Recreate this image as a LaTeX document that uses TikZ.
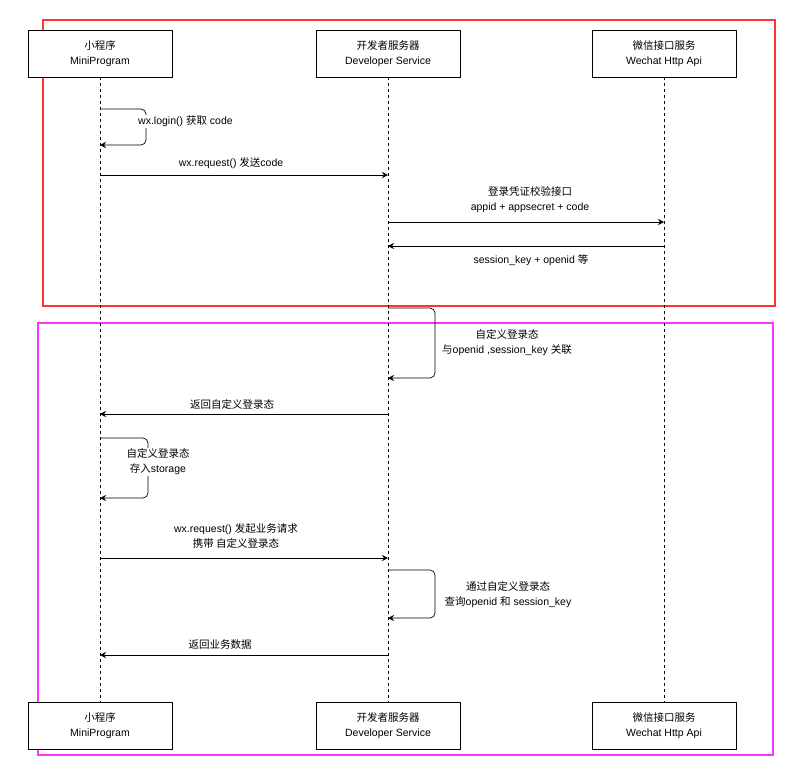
\documentclass[tikz,border=0pt]{standalone}
\usepackage{fontspec}
\setmainfont{Liberation Sans}
\newfontfamily\cjk{Noto Sans CJK SC}
\newcommand{\zh}[1]{{\cjk #1}}
\usetikzlibrary{arrows.meta}
\begin{document}
\begin{tikzpicture}[x=1pt,y=-1pt,font=\fontsize{10.5}{15}\selectfont,
  actor/.style={draw,minimum width=144pt,minimum height=47pt,align=center,fill=white},
  life/.style={dashed,line width=0.7pt},
  msg/.style={-{Stealth[length=6pt,width=6pt]},line width=0.7pt},
  self/.style={msg,rounded corners=5pt},
  lbl/.style={align=center,inner sep=1pt}]
\useasboundingbox (0,0) rectangle (808,766);
% frames
\draw[line width=2.5pt,color={rgb,255:red,255;green,51;blue,51}] (43,20) rectangle (775,306);
\draw[line width=2.5pt,color={rgb,255:red,255;green,51;blue,255}] (38,323) rectangle (773,755);
% actors
\node[actor] (mt) at (100,53.5) {\zh{小程序}\\MiniProgram};
\node[actor] (dt) at (388,53.5) {\zh{开发者服务器}\\Developer Service};
\node[actor] (wt) at (664,53.5) {\zh{微信接口服务}\\Wechat Http Api};
\node[actor] (mb) at (100,726) {\zh{小程序}\\MiniProgram};
\node[actor] (db) at (388,726) {\zh{开发者服务器}\\Developer Service};
\node[actor] (wb) at (664,726) {\zh{微信接口服务}\\Wechat Http Api};
\draw[life] (mt) -- (mb);
\draw[life] (dt) -- (db);
\draw[life] (wt) -- (wb);
% points on lifelines
\coordinate (m1) at (100,109); \coordinate (m2) at (100,145);
\coordinate (m3) at (100,175); \coordinate (d3) at (388,175);
\coordinate (d4) at (388,222); \coordinate (w4) at (664,222);
\coordinate (w5) at (664,246); \coordinate (d5) at (388,246);
\coordinate (d6) at (388,308); \coordinate (d7) at (388,378);
\coordinate (d8) at (388,414); \coordinate (m8) at (100,414);
\coordinate (m9) at (100,438); \coordinate (m10) at (100,498);
\coordinate (m11) at (100,558); \coordinate (d11) at (388,558);
\coordinate (d12) at (388,570); \coordinate (d13) at (388,618);
\coordinate (d14) at (388,655); \coordinate (m14) at (100,655);
% messages
\draw[self] (m1) -- ++(46,0) |- (m2);
\node[lbl,anchor=west,fill=white] (l1) at (137,121) {wx.login() \zh{获取} code};
\draw[msg] (m3) -- (d3);
\node[lbl] (l2) at (231,163) {wx.request() \zh{发送}code};
\draw[msg] (d4) -- (w4);
\node[lbl] (l3) at (530,200) {\zh{登录凭证校验接口}\\appid + appsecret + code};
\draw[msg] (w5) -- (d5);
\node[lbl] (l4) at (531,260) {session\_key + openid \zh{等}};
\draw[self] (d6) -- ++(47,0) |- (d7);
\node[lbl,fill=white] (l5) at (507,343) {\zh{自定义登录态}\\\zh{与}openid ,session\_key \zh{关联}};
\draw[msg] (d8) -- (m8);
\node[lbl] (l6) at (232,404) {\zh{返回自定义登录态}};
\draw[self] (m9) -- ++(48,0) |- (m10);
\node[lbl,fill=white] (l7) at (158,462) {\zh{自定义登录态}\\\zh{存入}storage};
\draw[msg] (m11) -- (d11);
\node[lbl] (l8) at (236,536) {wx.request() \zh{发起业务请求}\\\zh{携带 自定义登录态}};
\draw[self] (d12) -- ++(47,0) |- (d13);
\node[lbl,fill=white] (l9) at (508,595) {\zh{通过自定义登录态}\\\zh{查询}openid \zh{和} session\_key};
\draw[msg] (d14) -- (m14);
\node[lbl] (l10) at (220,645) {\zh{返回业务数据}};
\end{tikzpicture}
\end{document}
